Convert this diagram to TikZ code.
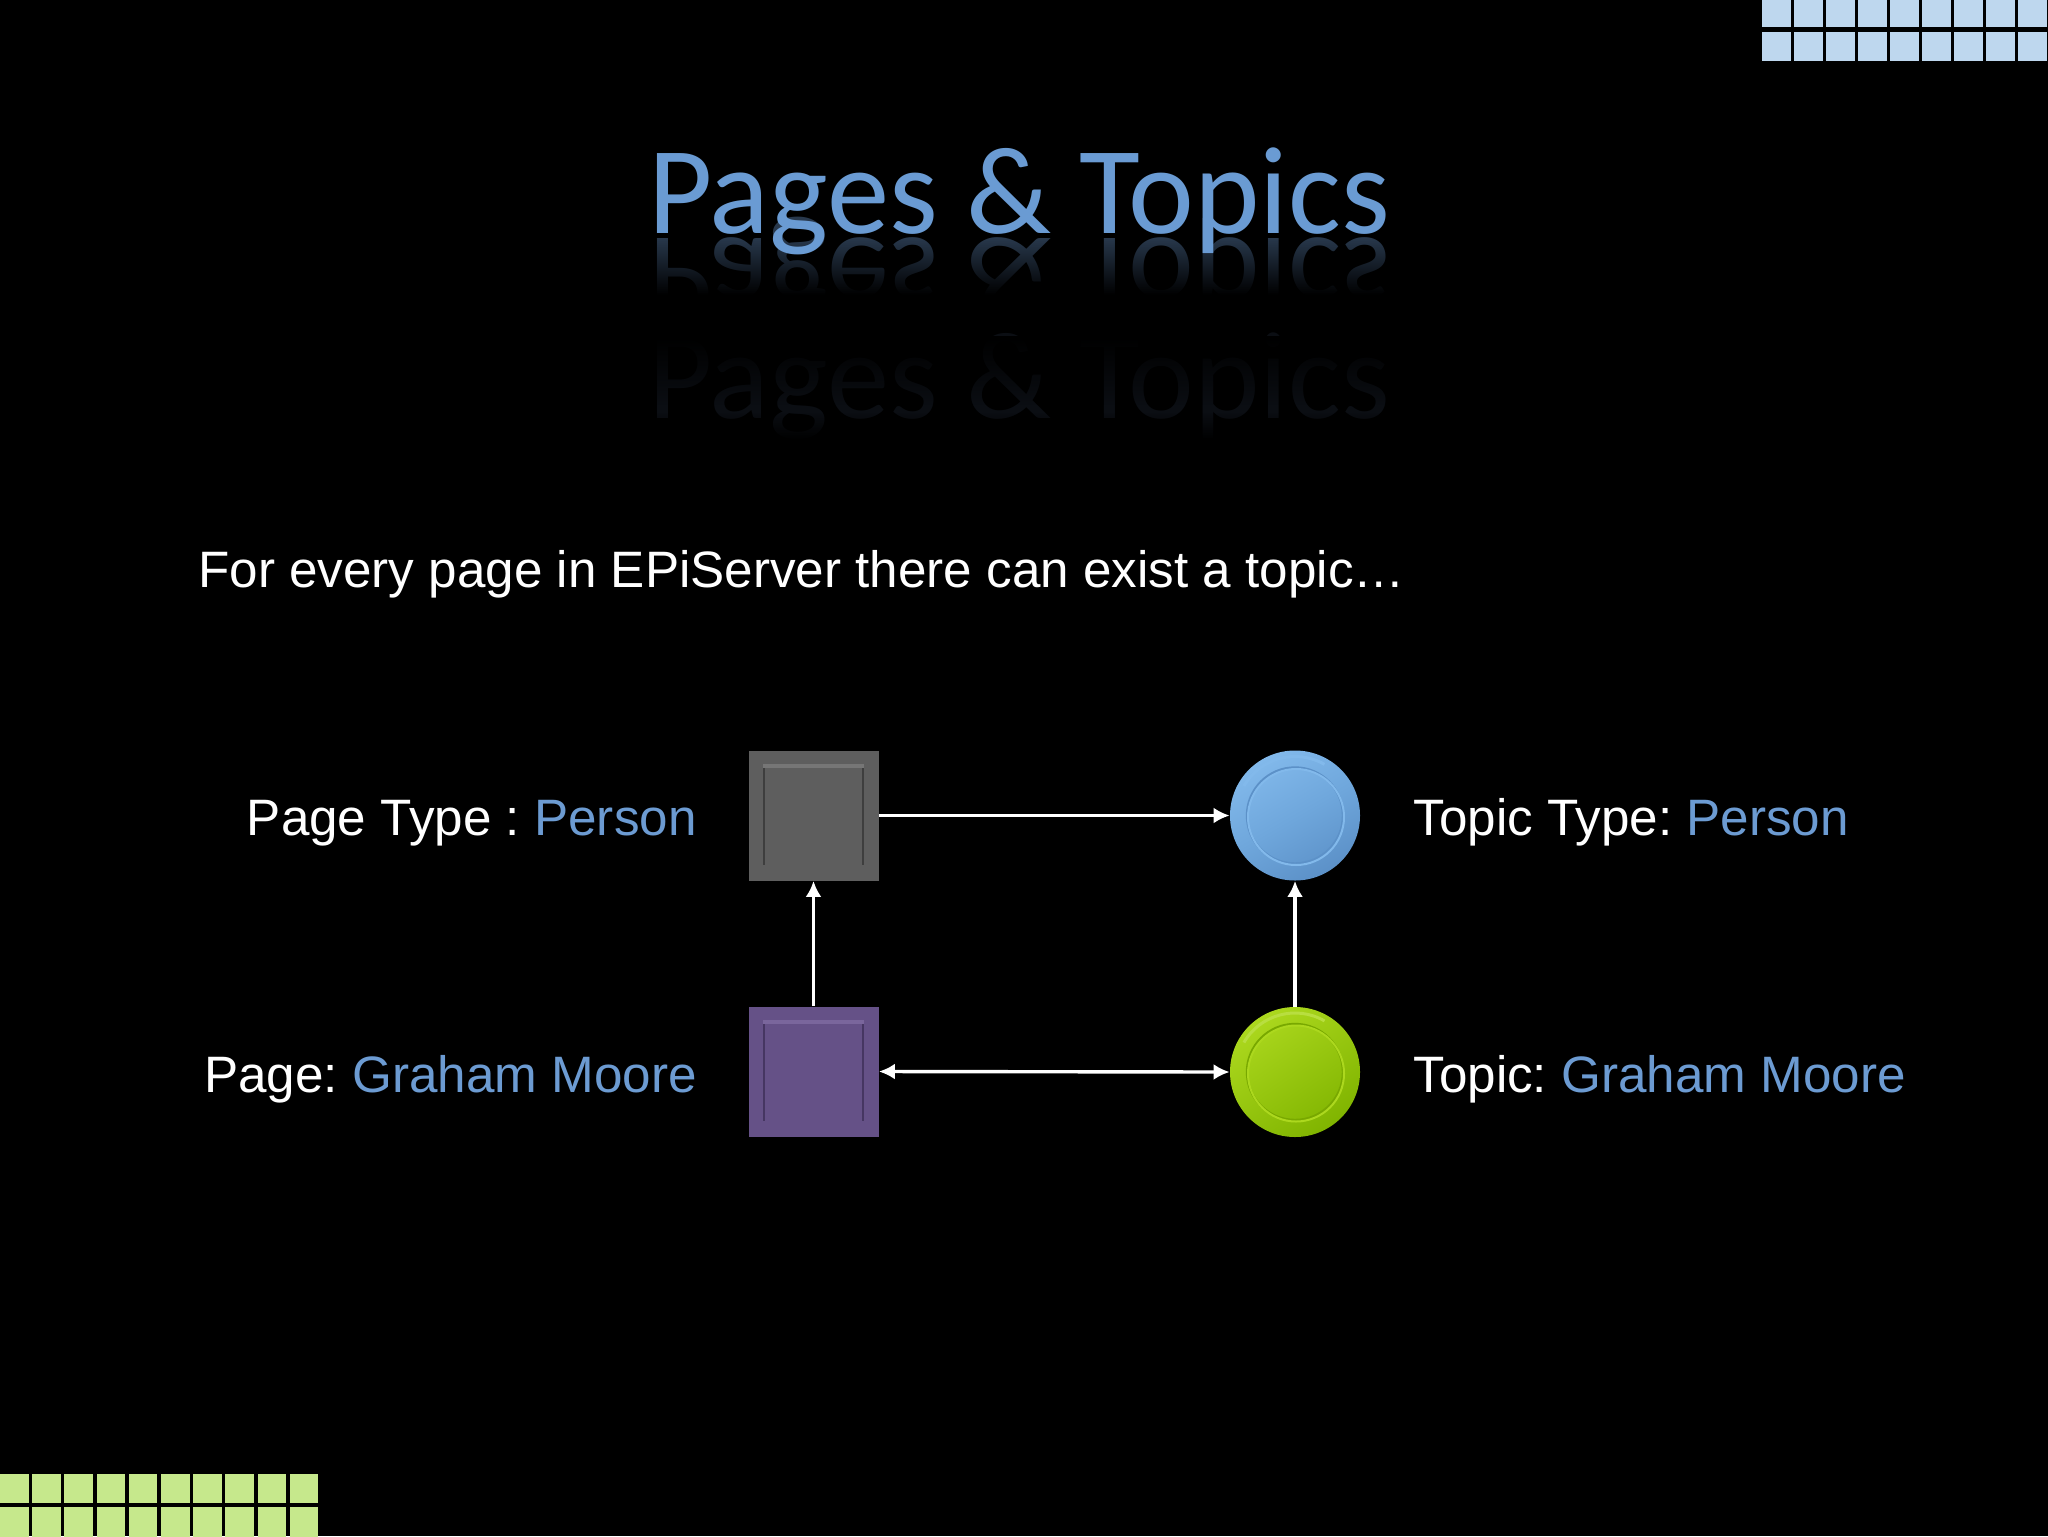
\documentclass[tikz,border=0pt]{standalone}
\usepackage{fontspec}
\setmainfont{Liberation Sans}
\newfontfamily\titlefont{Carlito}
\usetikzlibrary{arrows.meta,fadings}
\frenchspacing
\definecolor{hlblue}{RGB}{108,155,210}
\definecolor{titleblue}{RGB}{106,155,211}
\definecolor{reflblue}{RGB}{40,56,76}
\definecolor{ghostcol}{RGB}{11,14,19}
\definecolor{cellblue}{RGB}{190,215,238}
\definecolor{cellgreen}{RGB}{198,232,140}
\definecolor{sqgray}{RGB}{94,94,94}
\definecolor{sqgrayhi}{RGB}{118,118,118}
\definecolor{sqgraylo}{RGB}{62,62,62}
\definecolor{sqpurple}{RGB}{101,81,135}
\definecolor{sqpurplehi}{RGB}{122,102,156}
\definecolor{sqpurplelo}{RGB}{70,54,98}
\definecolor{cblue}{RGB}{111,167,220}
\definecolor{cbluehi}{RGB}{130,185,235}
\definecolor{cbluelo}{RGB}{92,145,200}
\definecolor{cgreenhi}{RGB}{172,216,30}
\definecolor{cgreenlo}{RGB}{128,180,0}
\definecolor{cgreenring}{RGB}{120,168,0}
\tikzfading[name=reflectfade, top color=transparent!100, bottom color=transparent!0]
\tikzfading[name=ghostfade, top color=transparent!0, bottom color=transparent!100]
\tikzset{
  lbl/.style={inner sep=0pt, text=white, font=\fontsize{25.6pt}{29pt}\selectfont},
  ttl/.style={anchor=base, inner sep=0pt, font=\titlefont\fontsize{62.3pt}{62pt}\selectfont},
  sqbox/.style={minimum size=65pt, inner sep=0pt, draw=none},
  cnode/.style={circle, minimum size=65pt, inner sep=0pt, draw=none},
  conn/.style={white, line width=1.7pt, -{Latex[length=8pt,width=8pt]}},
  dconn/.style={white, line width=1.7pt, {Latex[length=8pt,width=8pt]}-{Latex[length=8pt,width=8pt]}},
}
\begin{document}
\begin{tikzpicture}[x=0.5pt,y=-0.5pt]
\fill[black] (0,0) rectangle (2048,1536);
\useasboundingbox (0,0) rectangle (2048,1536);

% corner grids
\foreach \k in {0,...,8}{
  \fill[cellblue] (1762+32*\k,-4) rectangle ++(28.5,31.3);
  \fill[cellblue] (1762+32*\k,32.3) rectangle ++(28.5,28.5);
}
\foreach \k in {0,...,9}{
  \fill[cellgreen] (32.2*\k,1474) rectangle ++(28.5,29.3);
  \fill[cellgreen] (32.2*\k,1507.3) rectangle ++(28.5,32);
}

% title with reflection
\node[ttl, yscale=-1, text=reflblue] (titlerefl) at (1019,238) {Pages \& Topics};
\fill[black, path fading=reflectfade] (600,238) rectangle (1450,295);
\fill[black] (600,295) rectangle (1450,335);
\node[ttl, text=ghostcol] (titleghost) at (1019,418) {Pages \& Topics};
\fill[black, path fading=ghostfade] (600,336) rectangle (1450,405);
\fill[black, path fading=reflectfade] (600,412) rectangle (1450,440);
\fill[black] (600,440) rectangle (1450,450);

\node[ttl, text=titleblue] (title) at (1019,233) {Pages \& Topics};

% intro text
\node[lbl, anchor=base west] (intro) at (198,587) {For every page in EPiServer there can exist a topic…};

% shapes
\node[sqbox, fill=sqgray] (ptype) at (813.5,815.5) {};
\node[sqbox, fill=sqpurple] (page) at (813.5,1071.5) {};
\node[cnode, top color=cbluehi, bottom color=cbluelo, middle color=cblue, shading angle=30] (ttype) at (1295,815.5) {};
\node[cnode, top color=cgreenhi, bottom color=cgreenlo, shading angle=35] (topic) at (1295,1072) {};

% square bevels
\foreach \n/\hi/\lo in {ptype/sqgrayhi/sqgraylo, page/sqpurplehi/sqpurplelo}{
  \draw[\hi, line width=2pt] ([shift={(15,16)}]\n.north west) -- ([shift={(-15,16)}]\n.north east);
  \draw[\lo, line width=1pt] ([shift={(16,18)}]\n.north west) -- ([shift={(16,-16)}]\n.south west);
  \draw[\lo, line width=1.3pt] ([shift={(-16,18)}]\n.north east) -- ([shift={(-16,-16)}]\n.south east);
}
% circle rings
\draw[cbluelo, line width=1.2pt] (ttype.center) circle (48);
\draw[cbluehi, line width=1pt] ([shift={(1,1.5)}]ttype.center) circle (48);
\draw[cbluehi, line width=1.5pt] (ttype.center) ++(-150:59) arc (-150:-60:59);
\draw[cgreenring, line width=1.2pt] (topic.center) circle (48);
\draw[cgreenhi, line width=1pt] ([shift={(1,1.5)}]topic.center) circle (48);
\draw[cgreenhi!85!white, line width=1.5pt] (topic.center) ++(-150:59) arc (-150:-60:59);

% connectors
\draw[conn] (ptype.east) -- (ttype.west);
\draw[dconn] (page.east) -- (topic.west);
\draw[conn] (page.north) -- (ptype.south);
\draw[conn] (topic.north) -- (ttype.south);

% labels
\node[lbl, anchor=base east] (lptype) at (697,835) {Page Type : \textcolor{hlblue}{Person}};
\node[lbl, anchor=base east] (lpage) at (697,1092) {Page: \textcolor{hlblue}{Graham Moore}};
\node[lbl, anchor=base west] (lttype) at (1413,835) {Topic Type: \textcolor{hlblue}{Person}};
\node[lbl, anchor=base west] (ltopic) at (1413,1092) {Topic: \textcolor{hlblue}{Graham Moore}};
\end{tikzpicture}
\end{document}
